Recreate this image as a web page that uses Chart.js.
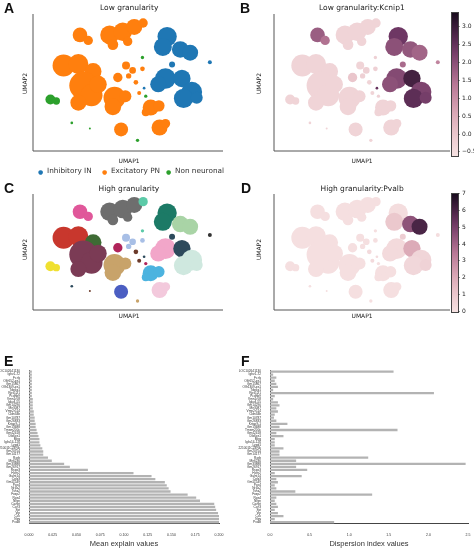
<!DOCTYPE html>
<html><head><meta charset="utf-8">
<script src="https://cdn.jsdelivr.net/npm/chart.js@4.4.0/dist/chart.umd.min.js"></script>
<style>
body{margin:0;width:474px;height:548px;background:#fff;font-family:"DejaVu Sans",sans-serif;position:relative;overflow:hidden}
canvas{position:absolute}
.t{position:absolute;white-space:nowrap;color:#222}
.L{position:absolute;font:bold 14px "Liberation Sans",Arial,sans-serif;color:#111}
.cb{position:absolute;width:6px;border:0.5px solid #444}
</style></head><body>
<canvas id="cA" width="237" height="165" style="left:0;top:0"></canvas>
<canvas id="cB" width="237" height="165" style="left:237px;top:0"></canvas>
<canvas id="cC" width="237" height="145" style="left:0;top:180px"></canvas>
<canvas id="cD" width="237" height="145" style="left:237px;top:180px"></canvas>
<canvas id="cE" width="237" height="213" style="left:0;top:335px"></canvas>
<canvas id="cF" width="237" height="213" style="left:237px;top:335px"></canvas>
<div class="L" style="left:4px;top:0">A</div>
<div class="L" style="left:240px;top:0">B</div>
<div class="L" style="left:4px;top:180px">C</div>
<div class="L" style="left:241px;top:180px">D</div>
<div class="L" style="left:4px;top:353px">E</div>
<div class="L" style="left:241px;top:353px">F</div>
<div id="txt"></div>
<script>
// UMAP blobs (in UMAP plot frame)
const blobX=[240,265,330,370,405,432,340,385,190,235,280,250,275,235,295,345,340,378,355,380,400,388,430,410,420,455,480,440,365,482,500,505,492,545,575,500,478,550,580,555,595,520,635,150,168,430,440,215,415,270,435];
const blobY=[105,122,105,95,80,68,135,125,200,195,218,262,292,315,258,300,328,295,237,200,215,232,210,252,285,330,325,345,398,392,380,110,142,150,160,240,258,240,282,302,300,197,190,305,310,175,295,378,432,395,270];
const blobR=[22,14,28,28,24,14,16,14,33,30,25,42,33,24,26,33,25,18,14,12,10,8,7,7,6,24,17,12,21,24,14,29,27,25,24,31,24,26,31,29,18,9,6,15,11,5,5,4,5,3,4];
const blobType=[1,1,1,1,1,1,1,1,1,1,1,1,1,1,1,1,1,1,1,1,1,1,1,1,1,1,1,1,1,1,1,0,0,0,0,0,0,0,0,0,0,0,0,2,2,2,2,2,2,2,0];
const blobCluster=[0,0,1,1,1,2,1,1,3,3,4,5,5,5,5,6,6,6,7,8,8,8,8,9,9,10,10,10,11,12,12,13,13,14,14,15,15,16,17,17,17,16,18,19,19,2,7,16,6,9,16];
const kcnip1=[1.8,1.5,-0.3,-0.3,-0.3,-0.3,-0.3,-0.3,-0.3,-0.3,-0.3,-0.3,-0.3,-0.3,-0.3,-0.3,-0.3,-0.3,0,-0.3,-0.2,-0.2,-0.2,-0.3,-0.3,-0.3,-0.3,-0.3,-0.3,-0.3,-0.3,2.4,2.0,1.9,1.7,2.1,2.0,2.9,2.2,2.6,2.3,1.6,1.2,-0.3,-0.3,-0.2,-0.2,-0.3,-0.3,-0.3,2.5];
const pvalb=[0.1,0.1,0.1,0.1,0.1,0.1,0.1,0.1,0.1,0.1,0.1,0.1,0.1,0.1,0.1,0.1,0.1,0.1,0.1,0.1,0.1,0.1,0.1,0.3,0.3,0.1,0.1,0.1,0.1,0.1,0.1,0.2,1.0,4.5,6.0,0.3,0.3,2.0,0.5,0.4,0.6,0.8,0.2,0.1,0.1,0.1,0.1,0.1,0.1,0.1,0.3];
const typeNames=["Inhibitory IN","Excitatory PN","Non neuronal"];
const typeColors=["#1f77b4","#ff7f0e","#2ca02c"];
const clusterColors=['#e0579a','#6e6e6e','#5ccaa8','#c8372d','#3e6b34','#7b3b55','#c8a36a','#b0245a','#a8bfe6','#6b3a2a','#4cb3df','#4b5ec2','#f3c9dc','#1c7a66','#a9d4a6','#f2a6c9','#2d4a5c','#cfe8df','#333333','#f0e030'];
const kTicks=["3.0","2.5","2.0","1.5","1.0","0.5","0.0","\u22120.5"];
const pTicks=["7","6","5","4","3","2","1","0"];

// Panel E / F
const genes=["LOC102641130","Ighv1-72","Fcrls","Olfr652-ps1","Gm15867","Olfr1309-ps1","Tdpoz1","Rps12l1","Pcdhb9","Vmn1r58","Igkv4-55","Gm14290","Mir3087","Vmn2r114","Cldn34b","Gm10787","Gm26833","Krtap9-1","Gm13688","Tmem200c","Gm42418","Dlx6os1","Mirg","Igkv14-126","Lypd1","2210011C24Rik","Gm20754","Gm14177","Rorb","Mir6236","Gm33888","Gm26917","Rspo3","Hcrtr2","Galnt14","Cplx3","Gm11549","Pcp4","Nr4a2","Tshz2","Foxp2","Rgs4","Nrgn","Cartpt","Ccn3","Sst","Vip","Cck","Npy","Pvalb"];
const meanExplain=[0.003,0.003,0.003,0.003,0.003,0.003,0.003,0.003,0.003,0.004,0.004,0.004,0.004,0.005,0.005,0.006,0.006,0.007,0.007,0.008,0.009,0.010,0.011,0.011,0.012,0.014,0.015,0.015,0.020,0.024,0.037,0.043,0.062,0.110,0.129,0.133,0.143,0.145,0.147,0.149,0.167,0.176,0.180,0.195,0.196,0.197,0.199,0.200,0.200,0.200];
const dispersion=[1.56,0.04,0.08,0.06,0.08,0.10,0.04,2.07,0.06,0.04,0.10,0.12,0.08,0.10,0.06,0.05,0.08,0.22,0.12,1.61,0.08,0.17,0.06,0.06,0.06,0.17,0.12,0.12,1.24,0.33,2.47,0.33,0.47,0.06,0.40,0.08,0.10,0.06,0.08,0.32,1.29,0.08,0.06,0.08,0.10,0.06,0.10,0.17,0.06,0.81];
const eTicks=[0,0.025,0.05,0.075,0.1,0.125,0.15,0.175,0.2];

function cmap(v,lo,hi){
  const st=[[0,[246,226,226]],[0.25,[226,180,190]],[0.5,[184,120,150]],[0.75,[110,55,100]],[1,[25,12,30]]];
  let t=Math.max(0,Math.min(1,(v-lo)/(hi-lo)));
  for(let i=1;i<st.length;i++){if(t<=st[i][0]){const a=st[i-1],b=st[i],f=(t-a[0])/(b[0]-a[0]);
    return 'rgb('+a[1].map((c,j)=>Math.round(c+(b[1][j]-c)*f)).join(',')+')';}}
}
const axesLines={id:'al',afterDraw(ch){const a=ch.chartArea,c=ch.ctx;c.save();c.strokeStyle='#555';c.lineWidth=1;
  c.beginPath();c.moveTo(a.left,a.top);c.lineTo(a.left,a.bottom);c.lineTo(a.right,a.bottom);c.stroke();c.restore();}};
const pts=blobX.map((x,i)=>({x:x,y:blobY[i],r:blobR[i]/3}));
function umap(id,colors,pad){
  new Chart(document.getElementById(id),{type:'bubble',
    data:{datasets:[{data:pts,backgroundColor:colors,borderWidth:0}]},
    options:{responsive:false,animation:false,layout:{padding:pad},
      plugins:{legend:{display:false},tooltip:{enabled:false}},
      scales:{x:{display:false,min:97,max:675},y:{display:false,min:40,max:465,reverse:true}}},
    plugins:[axesLines]});
}
umap('cA',blobType.map(t=>typeColors[t]),{left:33,right:12,top:13,bottom:10});
umap('cB',kcnip1.map(v=>cmap(v,-0.6,3.4)),{left:37,right:24,top:13,bottom:10});
umap('cC',blobCluster.map(c=>clusterColors[c]),{left:33,right:12,top:13,bottom:15});
umap('cD',pvalb.map(v=>cmap(v,0,7)),{left:37,right:24,top:13,bottom:15});

function bars(id,vals,max,ticks,title,pad,fmt){
  new Chart(document.getElementById(id),{type:'bar',
    data:{labels:genes,datasets:[{data:vals,backgroundColor:'#b3b3b3',barPercentage:0.75,categoryPercentage:1}]},
    options:{indexAxis:'y',responsive:false,animation:false,layout:{padding:pad},
      plugins:{legend:{display:false},tooltip:{enabled:false}},
      scales:{
        x:{min:0,max:max,grid:{display:false},border:{color:'#444'},
          afterBuildTicks(s){s.ticks=ticks.map(v=>({value:v}));},
          ticks:{font:{size:3.5},color:'#333',padding:1,callback:fmt},
          title:{display:true,text:title,font:{size:7.5},color:'#333',padding:{top:1,bottom:0}}},
        y:{grid:{display:false},border:{color:'#444'},afterFit(s){s.width=pad.yw;},
          ticks:{font:{size:3.2},color:'#333',padding:1,autoSkip:false}}}}});
}
bars('cE',meanExplain,0.2,eTicks,'Mean explain values',{left:0,right:18,top:35,bottom:0,yw:29},v=>v.toFixed(3));
bars('cF',dispersion,2.5,[0,0.5,1,1.5,2,2.5],'Dispersion index values',{left:0,right:6,top:35,bottom:0,yw:33},v=>v.toFixed(1));

// texts
const T=document.getElementById('txt');
function txt(s,x,y,sz,extra){const d=document.createElement('div');d.className='t';d.textContent=s;
  d.style.cssText+='left:'+x+'px;top:'+y+'px;font-size:'+sz+'px;'+(extra||'');T.appendChild(d);return d;}
function ctr(s,cx,y,sz){const d=txt(s,0,y,sz);d.style.left=(cx-d.offsetWidth/2)+'px';}
ctr('Low granularity',129,3,7.5);
ctr('Low granularity:Kcnip1',362,3,7.5);
ctr('High granularity',129,184,7.5);
ctr('High granularity:Pvalb',362,184,7.5);
ctr('UMAP1',129,157,6);ctr('UMAP1',362,157,6);
ctr('UMAP1',129,312,6);ctr('UMAP1',362,312,6);
[[26,84],[260,84],[26,250],[260,250]].forEach(p=>{txt('UMAP2',p[0]-12,p[1]-4,6,'transform:rotate(-90deg)');});
// legend
let lx=[38,102,166];
typeNames.forEach((n,i)=>{txt('\u25CF',lx[i],168,6,'color:'+typeColors[i]);txt(n,lx[i]+9,166,7.3,'color:#333');});
// colorbars
function cbar(x,top,h,lo,hi){
  const g=[];for(let i=0;i<=10;i++){g.push(cmap(hi-(hi-lo)*i/10,lo,hi)+' '+(i*10)+'%');}
  const d=document.createElement('div');d.className='cb';d.style.cssText+='left:'+x+'px;top:'+top+'px;height:'+h+'px;background:linear-gradient('+g.join(',')+')';T.appendChild(d);
}
cbar(451,12,143,-0.6,3.4);
kTicks.forEach((s,i)=>{const v=3.0-0.5*i;const y=12+143*(3.4-v)/4.0;txt('- '+s,458,y-4,6);});
cbar(451,193,118,0,7);
pTicks.forEach((s,i)=>{const v=7-i;const y=193+118*(7-v)/7;txt('- '+s,458,y-4,6);});
</script></body></html>
